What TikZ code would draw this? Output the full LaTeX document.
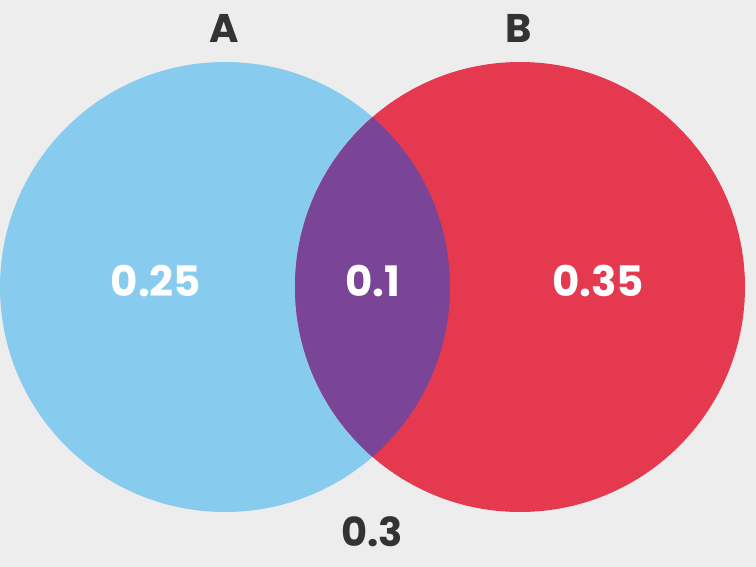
\documentclass[tikz,border=0pt]{standalone}
\usepackage{fontspec}
\setmainfont{Poppins}
\definecolor{bg}{HTML}{EDEDED}
\definecolor{cA}{HTML}{87CCEE}
\definecolor{cB}{HTML}{E5394F}
\definecolor{cAB}{HTML}{7B4597}
\definecolor{txt}{HTML}{333333}
\begin{document}
\begin{tikzpicture}[x=1pt,y=-1pt,
  lbl/.style={font=\fontsize{40}{40}\selectfont\bfseries, text=txt},
  num/.style={font=\fontsize{42}{42}\selectfont\bfseries, text=white}]
\fill[bg] (0,0) rectangle (756,567);
\useasboundingbox (0,0) rectangle (756,567);
\fill[cA] (225,287) circle (225);
\fill[cB] (520,287) circle (225);
\begin{scope}
\clip (225,287) circle (225);
\fill[cAB] (520,287) circle (225);
\end{scope}
\node[lbl] (A) at (224,28) {A};
\node[lbl] (B) at (519,28) {B};
\node[num] (a) at (156,281) {0.25};
\node[num] (ab) at (373,281) {0.1};
\node[num] (b) at (598,281) {0.35};
\node[lbl] (o) at (372,532) {0.3};
\end{tikzpicture}
\end{document}
